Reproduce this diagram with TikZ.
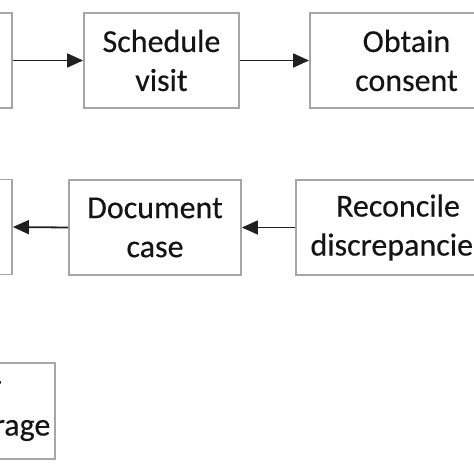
\documentclass[tikz,border=0pt]{standalone}
\usepackage{fontspec}
\setmainfont{Carlito}[FakeBold=0.3]
\usetikzlibrary{arrows.meta}
\definecolor{boxgray}{HTML}{A6A6A6}
\definecolor{arrowc}{HTML}{202020}
\definecolor{txt}{HTML}{141414}
\begin{document}
\begin{tikzpicture}[x=1pt,y=-1pt,
  stepbox/.style={draw=boxgray, line width=1.8pt, inner sep=0pt, align=center,
    minimum height=95pt, font=\fontsize{32}{39}\selectfont, text=txt},
  flow/.style={draw=arrowc, line width=1.8pt, -{Triangle[length=16pt,width=14pt]}}]
\useasboundingbox (0,0) rectangle (474,474);
\clip (0,0) rectangle (474,474);

% first row
\node[stepbox, minimum width=182pt] (a1) at (-79,60.5) {};
\node[stepbox, minimum width=155pt] (b1) at (161.5,60.5) {Schedule\\visit};
\node[stepbox, minimum width=193pt] (c1) at (406.5,60.5) {Obtain\\consent};

% second row, running right to left
\node[stepbox, minimum width=182pt] (a2) at (-79,227) {};
\node[stepbox, minimum width=172pt] (b2) at (155,227.5) {Document\\case};
\node[stepbox, minimum width=204pt] (c2) at (398,227.5) {Reconcile\\discrepancies};

% third row
\node[stepbox, minimum width=126pt, minimum height=96pt] (a3) at (-8,411) {or\kern9pt\\coverage};

\draw[flow] (a1.east) -- (b1.west);
\draw[flow] (b1.east) -- (c1.west);
\draw[flow] (c2.west) -- (b2.east);
\draw[flow] (b2.west) -- (a2.east);
\end{tikzpicture}
\end{document}
